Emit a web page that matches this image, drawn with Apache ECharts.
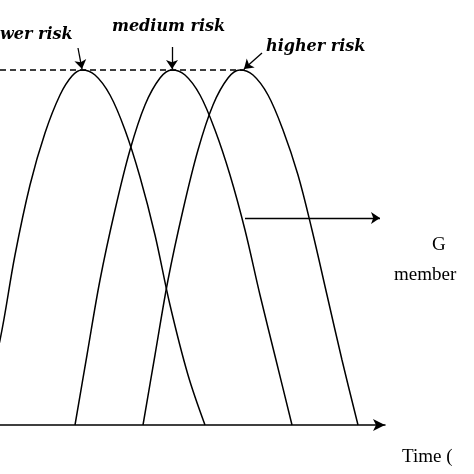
<!DOCTYPE html>
<html><head><meta charset="utf-8">
<script src="https://cdn.jsdelivr.net/npm/echarts@6/dist/echarts.min.js"></script>
<style>html,body{margin:0;padding:0;background:#fff}#c{width:474px;height:474px}</style>
</head><body><div id="c"></div>
<script>
// membership curves: [time, membership height]
var lowerRisk = [[-12,40],[0,85],[15,170],[30,240],[45,292],[60,330],[72,349],[82,355],[95,350],[110,330],[125,295],[140,248],[155,190],[170,120],[188,50],[205,0]];
var mediumRisk = [[75,0],[87,70],[100,145],[115,215],[130,275],[145,320],[160,347],[172,355],[185,350],[200,330],[215,295],[230,250],[245,195],[260,130],[276,65],[292,0]];
var higherRisk = [[143,0],[155,70],[168,145],[183,215],[198,275],[213,320],[228,347],[240,355],[253,350],[268,330],[283,295],[298,250],[312,195],[327,130],[342,65],[358,0]];
var peakLevel = 355;
var outputLevel = 207;

var chart = echarts.init(document.getElementById('c'));
function curve(name, data){
    return {name: name, type: 'line', smooth: 0.35, symbol: 'none', clip: true,
        lineStyle: {color: '#000', width: 1.5}, data: data};
}
var s1 = curve('lower risk', lowerRisk);
s1.markLine = {
    silent: true, symbol: ['none', 'none'], label: {show: false},
    lineStyle: {color: '#000', type: [6, 4], width: 1.5},
    data: [[{coord: [0, peakLevel]}, {coord: [245, peakLevel]}]]
};
var s2 = curve('medium risk', mediumRisk);
s2.markLine = {
    silent: true, symbol: ['none', 'arrow'], symbolSize: 9, label: {show: false},
    lineStyle: {color: '#000', type: 'solid', width: 1.3},
    data: [
        [{coord: [245, outputLevel]}, {coord: [380, outputLevel]}],
        [{coord: [78, 377]}, {coord: [82, peakLevel + 1]}],
        [{coord: [172, 378]}, {coord: [172, peakLevel + 1]}],
        [{coord: [262, 372]}, {coord: [244, peakLevel + 1]}]
    ]
};
var s3 = curve('higher risk', higherRisk);

var txt = {fill: '#000', fontFamily: 'DejaVu Serif', fontStyle: 'italic', fontWeight: 'bold', fontSize: 16};
chart.setOption({
    animation: false,
    grid: {left: 0, top: 0, width: 385, bottom: 49, containLabel: false},
    xAxis: {type: 'value', min: 0, max: 385, splitLine: {show: false},
        axisTick: {show: false}, axisLabel: {show: false},
        axisLine: {show: true, symbol: ['none', 'arrow'], symbolSize: [9, 12], lineStyle: {color: '#000', width: 1.5}}},
    yAxis: {type: 'value', min: 0, max: 425, show: false},
    series: [s1, s2, s3],
    graphic: [
        {type: 'text', left: 0, top: 27, style: Object.assign({text: 'wer risk'}, txt)},
        {type: 'text', left: 112, top: 19, style: Object.assign({text: 'medium risk'}, txt)},
        {type: 'text', left: 266, top: 39, style: Object.assign({text: 'higher risk'}, txt)},
        {type: 'text', left: 432, top: 236, style: {text: 'G', fill: '#000', fontFamily: 'Liberation Serif', fontSize: 19}},
        {type: 'text', left: 394, top: 266, style: {text: 'member', fill: '#000', fontFamily: 'Liberation Serif', fontSize: 19}},
        {type: 'text', left: 402, top: 448, style: {text: 'Time (', fill: '#000', fontFamily: 'Liberation Serif', fontSize: 19}}
    ]
});
</script></body></html>
